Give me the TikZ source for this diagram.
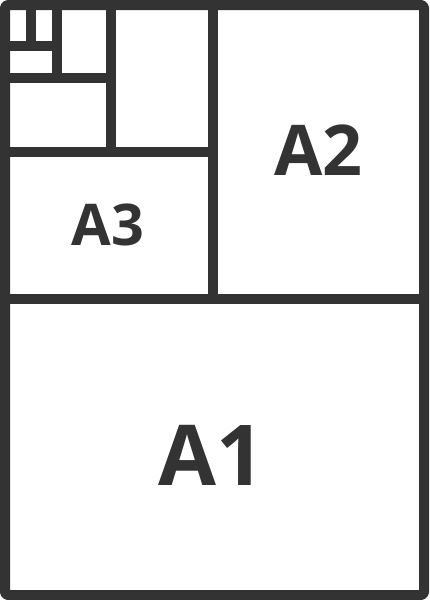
\documentclass[tikz,border=0pt]{standalone}
\usepackage{fontspec}
\setmainfont{Open Sans}
\definecolor{ink}{HTML}{333333}
\begin{document}
\begin{tikzpicture}[x=1pt,y=-1pt,
  frame/.style={draw=ink,line width=10pt,line join=round},
  divider/.style={draw=ink,line width=10pt},
  label/.style={text=ink,inner sep=0pt,font=\bfseries}]
\path[use as bounding box] (0,0) rectangle (429,600);
\draw[frame,rounded corners=3pt] (5,5) rectangle (424,595);
\draw[divider] (5,299) -- (424,299);
\draw[divider] (213,5) -- (213,299);
\draw[divider] (5,152) -- (213,152);
\draw[divider] (110.5,5) -- (110.5,152);
\draw[divider] (5,78) -- (110.5,78);
\draw[divider] (57,5) -- (57,78);
\draw[divider] (5,46) -- (57,46);
\draw[divider] (31,5) -- (31,46);
\node[label,font=\bfseries\fontsize{84}{84}\selectfont] (a1) at (211,455) {A1};
\node[label,font=\bfseries\fontsize{70}{70}\selectfont] (a2) at (318.5,150) {A2};
\node[label,font=\bfseries\fontsize{57.5}{57.5}\selectfont] (a3) at (108,224.5) {A3};
\end{tikzpicture}
\end{document}
